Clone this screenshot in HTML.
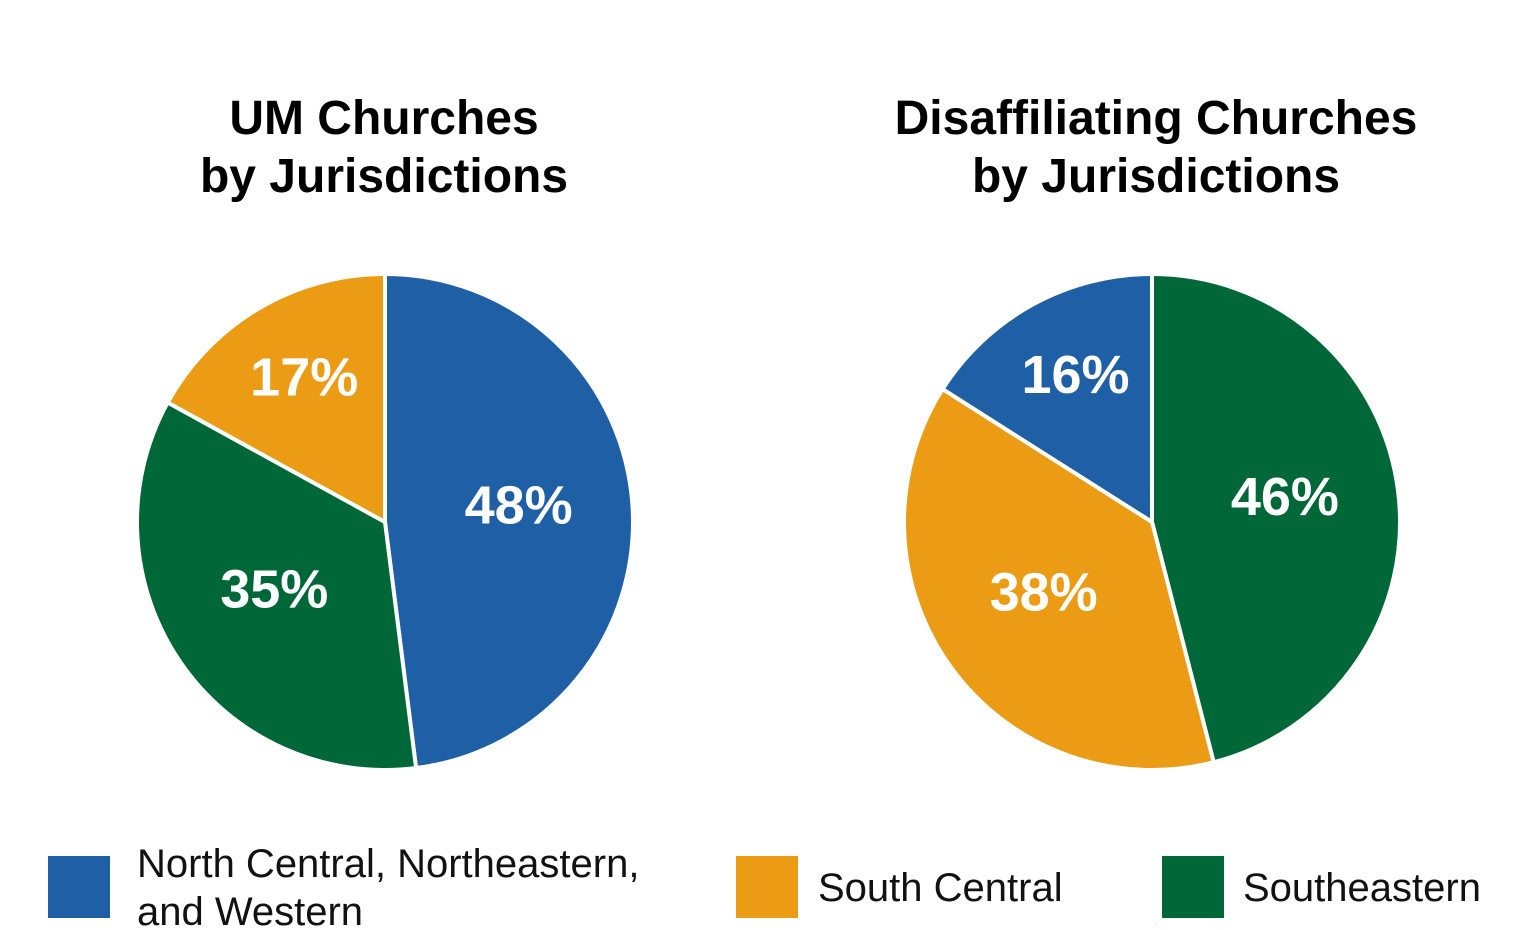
<!DOCTYPE html>
<html><head><meta charset="utf-8"><style>
html,body{margin:0;padding:0;background:#fff;width:1536px;height:930px;overflow:hidden;font-family:"Liberation Sans",sans-serif;}
</style></head><body>
<svg id="chart" width="1536" height="930" viewBox="0 0 1536 930">
<text x="384" y="134" text-anchor="middle" font-size="48" font-weight="bold" fill="#000">UM Churches</text>
<text x="384" y="192" text-anchor="middle" font-size="48" font-weight="bold" fill="#000">by Jurisdictions</text>
<text x="1156" y="134" text-anchor="middle" font-size="48" font-weight="bold" fill="#000">Disaffiliating Churches</text>
<text x="1156" y="192" text-anchor="middle" font-size="48" font-weight="bold" fill="#000">by Jurisdictions</text>
<g id="pies"></g>
<rect x="48" y="856" width="62" height="62" fill="#1f5fa6"/>
<text x="137" y="877" font-size="40" fill="#111">North Central, Northeastern,</text>
<text x="137" y="925" font-size="40" fill="#111">and Western</text>
<rect x="736" y="856" width="62" height="62" fill="#ec9c14"/>
<text x="818" y="901" font-size="40" fill="#111">South Central</text>
<rect x="1162" y="856" width="62" height="62" fill="#006838"/>
<text x="1243" y="901" font-size="40" fill="#111">Southeastern</text>
</svg>
<script>
const leftCategories = ["North Central, Northeastern, and Western", "Southeastern", "South Central"];
const leftValues = [48, 35, 17];
const rightCategories = ["Southeastern", "South Central", "North Central, Northeastern, and Western"];
const rightValues = [46, 38, 16];
const colorMap = {"North Central, Northeastern, and Western":"#1f5fa6","South Central":"#ec9c14","Southeastern":"#006838"};
const NS = "http://www.w3.org/2000/svg";
function drawPie(cats, vals, cx, cy, r, prefix){
  const g = document.getElementById('pies');
  const total = vals.reduce((a,b)=>a+b,0);
  let a0 = 0;
  vals.forEach((v,i)=>{
    const a1 = a0 + v/total*2*Math.PI;
    const x0 = cx + r*Math.sin(a0), y0 = cy - r*Math.cos(a0);
    const x1 = cx + r*Math.sin(a1), y1 = cy - r*Math.cos(a1);
    const large = (a1-a0) > Math.PI ? 1 : 0;
    const p = document.createElementNS(NS,'path');
    p.setAttribute('d',`M${cx},${cy} L${x0},${y0} A${r},${r} 0 ${large} 1 ${x1},${y1} Z`);
    p.setAttribute('fill', colorMap[cats[i]]);
    p.setAttribute('stroke','#fff');
    p.setAttribute('stroke-width','4');
    p.setAttribute('stroke-linejoin','round');
    
    
    g.appendChild(p);
    a0 = a1;
  });
  a0 = 0;
  vals.forEach((v,i)=>{
    const a1 = a0 + v/total*2*Math.PI;
    const m = (a0+a1)/2;
    const lr = r*(v<25 ? 0.64 : 0.54);
    const t = document.createElementNS(NS,'text');
    t.setAttribute('x', cx + lr*Math.sin(m));
    t.setAttribute('y', cy - lr*Math.cos(m) + 10);
    t.setAttribute('text-anchor','middle');
    t.setAttribute('font-size','54');
    t.setAttribute('font-weight','bold');
    t.setAttribute('fill','#fff');
    t.textContent = v + '%';
    
    
    g.appendChild(t);
    a0 = a1;
  });
}
drawPie(leftCategories, leftValues, 385, 522, 248, 'left');
drawPie(rightCategories, rightValues, 1152, 522, 248, 'right');
</script>
</body></html>
